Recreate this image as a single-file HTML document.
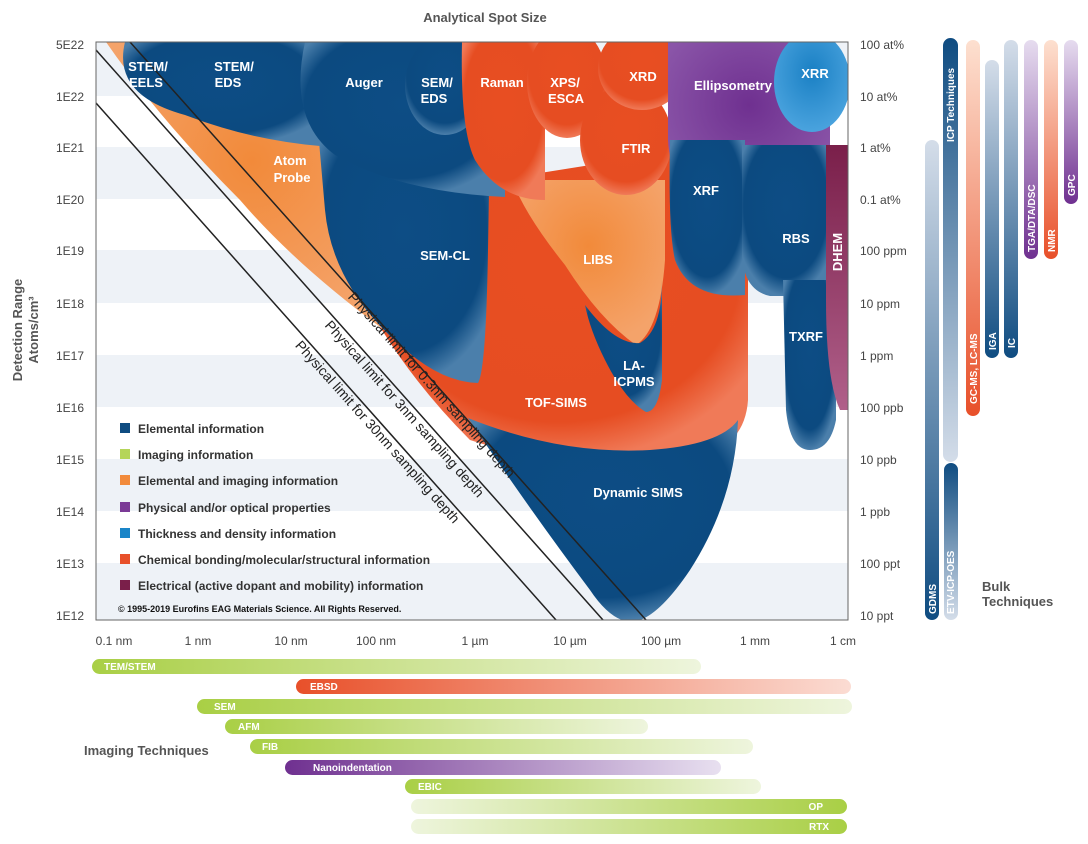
<!DOCTYPE html>
<html><head><meta charset="utf-8"><style>
html,body{margin:0;padding:0;background:#fff}
svg{display:block;font-family:"Liberation Sans",sans-serif}
</style></head><body>
<svg width="1088" height="844" viewBox="0 0 1088 844" xmlns="http://www.w3.org/2000/svg">
<defs>
<radialGradient id="gB" cx="50%" cy="40%" r="60%"><stop offset="0" stop-color="#0d4d85"/><stop offset="0.8" stop-color="#0c4a80"/><stop offset="1" stop-color="#4b7fab"/></radialGradient>
<radialGradient id="gR" cx="50%" cy="40%" r="60%"><stop offset="0" stop-color="#e84e22"/><stop offset="0.8" stop-color="#e64d22"/><stop offset="1" stop-color="#f07a58"/></radialGradient>
<radialGradient id="gO" cx="50%" cy="40%" r="60%"><stop offset="0" stop-color="#f28a3a"/><stop offset="1" stop-color="#f4a36a"/></radialGradient>
<radialGradient id="gP" cx="50%" cy="40%" r="60%"><stop offset="0" stop-color="#6f3090"/><stop offset="1" stop-color="#8a55a8"/></radialGradient>
<radialGradient id="gL" cx="50%" cy="40%" r="60%"><stop offset="0" stop-color="#1a80c4"/><stop offset="1" stop-color="#4aa3de"/></radialGradient>
<linearGradient id="gM" x1="0" y1="0" x2="0" y2="1"><stop offset="0" stop-color="#7a1f4a"/><stop offset="1" stop-color="#b0608a"/></linearGradient>
<linearGradient id="vb1" x1="0" y1="0" x2="0" y2="1"><stop offset="0" stop-color="#d4dde9"/><stop offset="1" stop-color="#0f4c81"/></linearGradient>
<linearGradient id="vb2" x1="0" y1="0" x2="0" y2="1"><stop offset="0" stop-color="#0f4c81"/><stop offset="1" stop-color="#d4dde9"/></linearGradient>
<linearGradient id="vr1" x1="0" y1="0" x2="0" y2="1"><stop offset="0" stop-color="#fde0d0"/><stop offset="1" stop-color="#e8502a"/></linearGradient>
<linearGradient id="vp1" x1="0" y1="0" x2="0" y2="1"><stop offset="0" stop-color="#e6dcef"/><stop offset="1" stop-color="#6f3090"/></linearGradient>
<linearGradient id="hg1" x1="0" y1="0" x2="1" y2="0"><stop offset="0" stop-color="#a9cf45"/><stop offset="1" stop-color="#eef5dd"/></linearGradient>
<linearGradient id="hg2" x1="0" y1="0" x2="1" y2="0"><stop offset="0" stop-color="#eef5dd"/><stop offset="1" stop-color="#a9cf45"/></linearGradient>
<linearGradient id="hr" x1="0" y1="0" x2="1" y2="0"><stop offset="0" stop-color="#e8502a"/><stop offset="1" stop-color="#fbdcd3"/></linearGradient>
<linearGradient id="hp" x1="0" y1="0" x2="1" y2="0"><stop offset="0" stop-color="#6f3090"/><stop offset="1" stop-color="#e8e0f0"/></linearGradient>
<clipPath id="pc"><rect x="96" y="42" width="752" height="578"/></clipPath>
</defs>

<!-- bands -->
<g fill="#eef2f7">
<rect x="96" y="42" width="752" height="54"/><rect x="96" y="147" width="752" height="52"/><rect x="96" y="250" width="752" height="53"/><rect x="96" y="355" width="752" height="52"/><rect x="96" y="459" width="752" height="52"/><rect x="96" y="563" width="752" height="57"/>
</g>

<g clip-path="url(#pc)">
<!-- TOF-SIMS -->
<path d="M370 200 L370 310 Q410 380 470 440 Q560 470 700 456 Q745 445 748 400 L748 140 Z" fill="url(#gR)"/>
<!-- Atom probe orange -->
<path d="M106 42 L322 42 L322 150 Q324 250 360 300 L398 340 Q300 270 240 200 Q160 120 106 42 Z" fill="url(#gO)"/>
<!-- Dynamic SIMS -->
<path d="M468 418 Q560 455 650 450 Q720 445 738 420 Q735 500 690 570 Q655 622 630 622 Q610 620 590 590 Q530 510 468 418 Z" fill="url(#gB)"/>
<!-- SEM-CL -->
<path d="M318 130 L490 130 L488 250 Q486 370 478 383 Q440 382 400 345 Q332 285 325 210 Z" fill="url(#gB)"/>
<!-- LIBS -->
<path d="M512 180 L665 180 L665 260 Q660 330 636 345 Q600 320 565 265 Q525 215 512 180 Z" fill="url(#gO)"/>
<!-- LA-ICPMS -->
<path d="M585 305 Q615 345 640 343 Q662 330 662 280 L662 380 Q658 412 646 412 Q625 400 605 360 Q590 330 585 305 Z" fill="url(#gB)"/>
<!-- top bubbles -->
<path d="M125 42 Q112 95 185 115 Q250 140 320 146 L320 42 Z" fill="url(#gB)"/>
<path d="M305 42 Q288 120 335 155 Q400 192 505 197 L505 42 Z" fill="url(#gB)"/>
<ellipse cx="445" cy="85" rx="40" ry="50" fill="url(#gB)"/>
<path d="M462 42 L545 42 L545 200 Q500 200 475 160 Q460 130 462 42 Z" fill="url(#gR)"/>
<ellipse cx="567" cy="82" rx="40" ry="56" fill="url(#gR)"/>
<ellipse cx="626" cy="140" rx="46" ry="55" fill="url(#gR)"/>
<ellipse cx="642" cy="68" rx="44" ry="42" fill="url(#gR)"/>
<path d="M668 42 L830 42 L830 200 L720 200 Q670 190 668 140 Z" fill="url(#gP)"/>
<ellipse cx="812" cy="82" rx="38" ry="50" fill="url(#gL)"/>
<path d="M670 140 L745 140 L745 295 Q690 300 675 260 Q668 230 670 140 Z" fill="url(#gB)"/>
<path d="M742 145 L830 145 L830 296 L770 296 Q742 290 742 250 Z" fill="url(#gB)"/>
<path d="M783 280 L836 280 L836 420 Q830 450 810 450 Q790 450 786 410 Z" fill="url(#gB)"/>
<path d="M826 145 L848 145 L848 410 L840 410 Q826 380 826 300 Z" fill="url(#gM)"/>
<!-- diagonal lines -->
<g stroke="#222" stroke-width="1.5">
<line x1="130" y1="42" x2="646" y2="620"/>
<line x1="96" y1="50" x2="603" y2="620"/>
<line x1="96" y1="103" x2="556" y2="620"/>
</g>
</g>
<rect x="96" y="42" width="752" height="578" fill="none" stroke="#666" stroke-width="1"/>

<!-- shape labels -->
<g fill="#fff" font-weight="bold" font-size="13" text-anchor="middle">
<text x="148" y="71">STEM/</text><text x="146" y="87">EELS</text>
<text x="234" y="71">STEM/</text><text x="228" y="87">EDS</text>
<text x="364" y="87">Auger</text>
<text x="437" y="87">SEM/</text><text x="434" y="103">EDS</text>
<text x="502" y="87">Raman</text>
<text x="565" y="87">XPS/</text><text x="566" y="103">ESCA</text>
<text x="643" y="81">XRD</text>
<text x="733" y="90">Ellipsometry</text>
<text x="815" y="78">XRR</text>
<text x="636" y="153">FTIR</text>
<text x="290" y="165">Atom</text><text x="292" y="182">Probe</text>
<text x="706" y="195">XRF</text>
<text x="796" y="243">RBS</text>
<text x="445" y="260">SEM-CL</text>
<text x="598" y="264">LIBS</text>
<text x="806" y="341">TXRF</text>
<text x="634" y="370">LA-</text><text x="634" y="386">ICPMS</text>
<text x="556" y="407">TOF-SIMS</text>
<text x="638" y="497">Dynamic SIMS</text>
<text transform="translate(842,252) rotate(-90)">DHEM</text>
</g>

<!-- line labels -->
<g fill="#222" font-size="14" text-anchor="middle">
<text transform="translate(428,388) rotate(48.3)">Physical limit for 0.3nm sampling depth</text>
<text transform="translate(401,412) rotate(48.3)">Physical limit for 3nm sampling depth</text>
<text transform="translate(374,435) rotate(48.3)">Physical limit for 30nm sampling depth</text>
</g>

<!-- legend -->
<g font-size="12" font-weight="bold" fill="#333">
<rect x="120" y="423" width="10" height="10" fill="#0f4c81"/><text x="138" y="433">Elemental information</text>
<rect x="120" y="449" width="10" height="10" fill="#b5d55a"/><text x="138" y="459">Imaging information</text>
<rect x="120" y="475" width="10" height="10" fill="#f28b3c"/><text x="138" y="485">Elemental and imaging information</text>
<rect x="120" y="502" width="10" height="10" fill="#7b3a96"/><text x="138" y="512">Physical and/or optical properties</text>
<rect x="120" y="528" width="10" height="10" fill="#1a85c8"/><text x="138" y="538">Thickness and density information</text>
<rect x="120" y="554" width="10" height="10" fill="#e8502a"/><text x="138" y="564">Chemical bonding/molecular/structural information</text>
<rect x="120" y="580" width="10" height="10" fill="#7a1f4a"/><text x="138" y="590">Electrical (active dopant and mobility) information</text>
<text x="118" y="612" font-size="9" fill="#111">© 1995-2019 Eurofins EAG Materials Science. All Rights Reserved.</text>
</g>

<!-- axes text -->
<text x="485" y="22" font-size="13" font-weight="bold" fill="#555" text-anchor="middle">Analytical Spot Size</text>
<g font-size="13" font-weight="bold" fill="#555" text-anchor="middle">
<text transform="translate(22,330) rotate(-90)">Detection Range</text>
<text transform="translate(38,330) rotate(-90)">Atoms/cm³</text>
</g>
<g font-size="12" fill="#444" text-anchor="end">
<text x="84" y="49">5E22</text><text x="84" y="101">1E22</text><text x="84" y="152">1E21</text><text x="84" y="204">1E20</text><text x="84" y="255">1E19</text><text x="84" y="308">1E18</text><text x="84" y="360">1E17</text><text x="84" y="412">1E16</text><text x="84" y="464">1E15</text><text x="84" y="516">1E14</text><text x="84" y="568">1E13</text><text x="84" y="620">1E12</text>
</g>
<g font-size="12" fill="#444">
<text x="860" y="49">100 at%</text><text x="860" y="101">10 at%</text><text x="860" y="152">1 at%</text><text x="860" y="204">0.1 at%</text><text x="860" y="255">100 ppm</text><text x="860" y="308">10 ppm</text><text x="860" y="360">1 ppm</text><text x="860" y="412">100 ppb</text><text x="860" y="464">10 ppb</text><text x="860" y="516">1 ppb</text><text x="860" y="568">100 ppt</text><text x="860" y="620">10 ppt</text>
</g>
<g font-size="12" fill="#444" text-anchor="middle">
<text x="114" y="645">0.1 nm</text><text x="198" y="645">1 nm</text><text x="291" y="645">10 nm</text><text x="376" y="645">100 nm</text><text x="475" y="645">1 µm</text><text x="570" y="645">10 µm</text><text x="661" y="645">100 µm</text><text x="755" y="645">1 mm</text><text x="843" y="645">1 cm</text>
</g>

<!-- bulk bars -->
<rect x="925" y="140" width="14" height="480" rx="7" fill="url(#vb1)"/>
<rect x="943" y="38" width="15" height="424" rx="7.5" fill="url(#vb2)"/>
<rect x="944" y="463" width="14" height="157" rx="7" fill="url(#vb2)"/>
<rect x="966" y="40" width="14" height="376" rx="7" fill="url(#vr1)"/>
<rect x="985" y="60" width="14" height="298" rx="7" fill="url(#vb1)"/>
<rect x="1004" y="40" width="14" height="318" rx="7" fill="url(#vb1)"/>
<rect x="1024" y="40" width="14" height="219" rx="7" fill="url(#vp1)"/>
<rect x="1044" y="40" width="14" height="219" rx="7" fill="url(#vr1)"/>
<rect x="1064" y="40" width="14" height="164" rx="7" fill="url(#vp1)"/>
<g fill="#fff" font-size="10" font-weight="bold">
<text transform="translate(936,614) rotate(-90)">GDMS</text>
<text transform="translate(954,142) rotate(-90)">ICP Techniques</text>
<text transform="translate(954,614) rotate(-90)">ETV-ICP-OES</text>
<text transform="translate(977,404) rotate(-90)">GC-MS, LC-MS</text>
<text transform="translate(996,350) rotate(-90)">IGA</text>
<text transform="translate(1015,348) rotate(-90)">IC</text>
<text transform="translate(1035,252) rotate(-90)">TGA/DTA/DSC</text>
<text transform="translate(1055,252) rotate(-90)">NMR</text>
<text transform="translate(1075,196) rotate(-90)">GPC</text>
</g>
<g font-size="13" font-weight="bold" fill="#555"><text x="982" y="591">Bulk</text><text x="982" y="606">Techniques</text></g>

<!-- imaging bars -->
<rect x="92" y="659" width="609" height="15" rx="7.5" fill="url(#hg1)"/>
<rect x="296" y="679" width="555" height="15" rx="7.5" fill="url(#hr)"/>
<rect x="197" y="699" width="655" height="15" rx="7.5" fill="url(#hg1)"/>
<rect x="225" y="719" width="423" height="15" rx="7.5" fill="url(#hg1)"/>
<rect x="250" y="739" width="503" height="15" rx="7.5" fill="url(#hg1)"/>
<rect x="285" y="760" width="436" height="15" rx="7.5" fill="url(#hp)"/>
<rect x="405" y="779" width="356" height="15" rx="7.5" fill="url(#hg1)"/>
<rect x="411" y="799" width="436" height="15" rx="7.5" fill="url(#hg2)"/>
<rect x="411" y="819" width="436" height="15" rx="7.5" fill="url(#hg2)"/>
<g fill="#fff" font-size="10" font-weight="bold">
<text x="104" y="670">TEM/STEM</text><text x="310" y="690">EBSD</text><text x="214" y="710">SEM</text><text x="238" y="730">AFM</text><text x="262" y="750">FIB</text><text x="313" y="771">Nanoindentation</text><text x="418" y="790">EBIC</text>
<text x="823" y="810" text-anchor="end">OP</text><text x="829" y="830" text-anchor="end">RTX</text>
</g>
<text x="84" y="755" font-size="13" font-weight="bold" fill="#555">Imaging Techniques</text>
</svg>
</body></html>
